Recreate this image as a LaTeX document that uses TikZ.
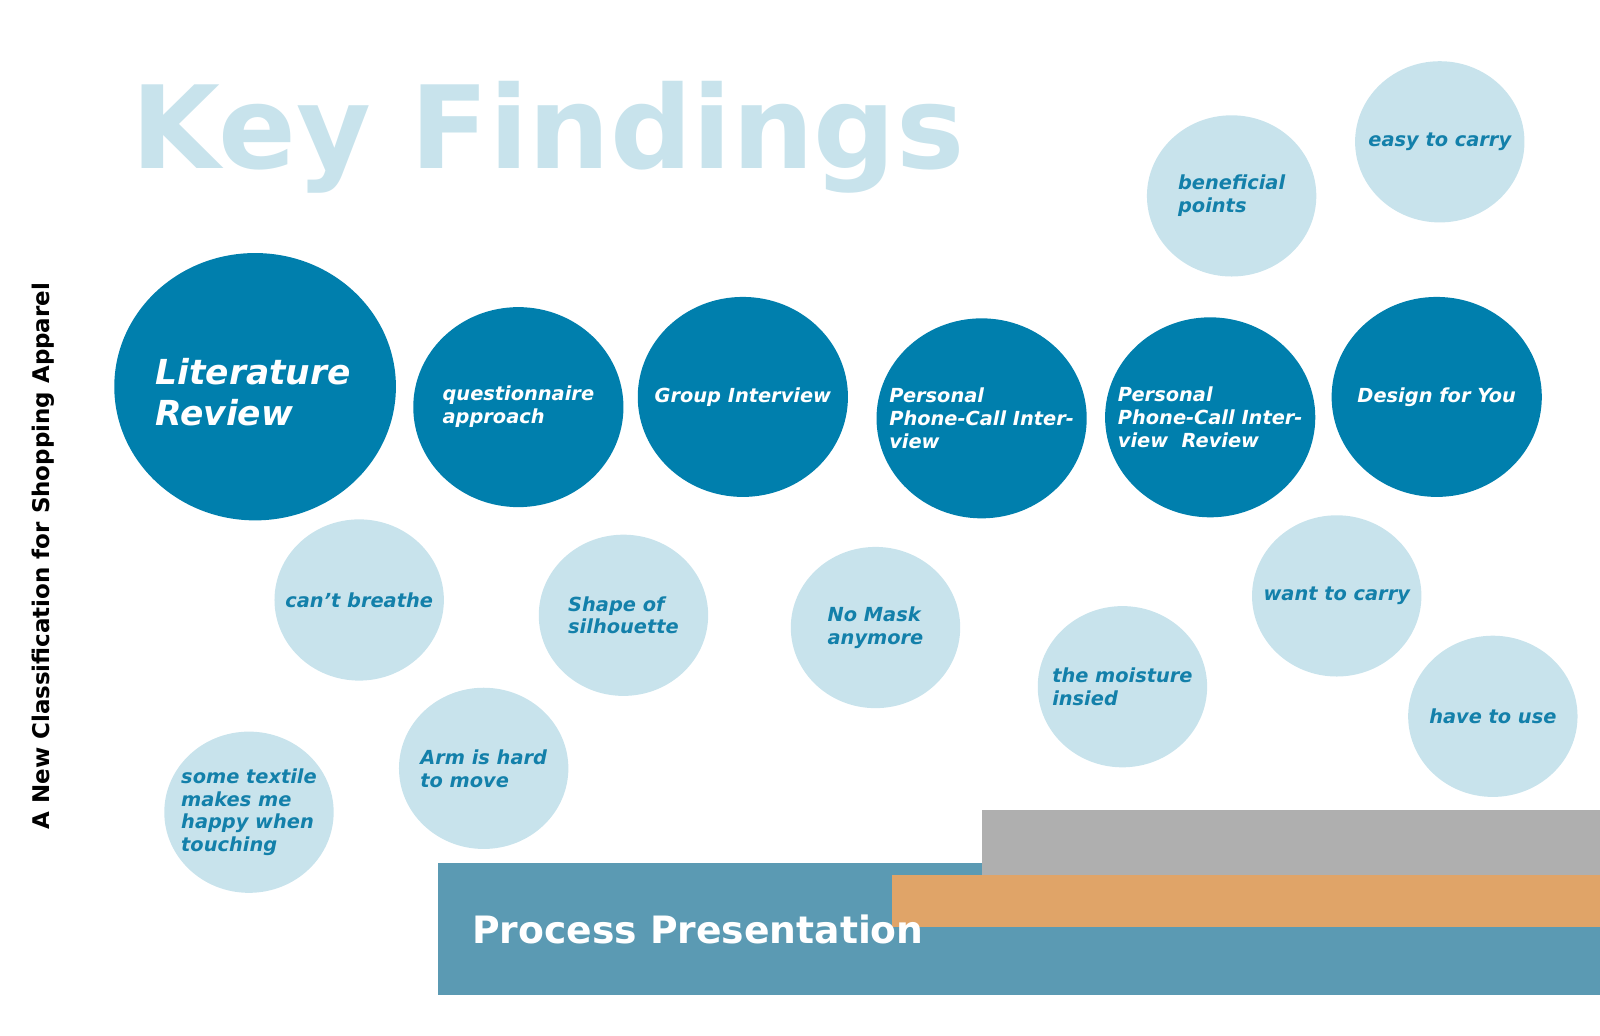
\documentclass[tikz,border=0pt]{standalone}
\usepackage{fontspec}
\setmainfont{DejaVu Sans}
\definecolor{dark}{HTML}{007FAD}
\definecolor{light}{HTML}{C8E3EC}
\definecolor{ltxt}{HTML}{1380AA}
\definecolor{gbar}{HTML}{AFAFAF}
\definecolor{obar}{HTML}{E0A468}
\definecolor{bbar}{HTML}{5B9AB3}
\newcommand{\bigc}[4]{\fill[dark] (#2) ellipse [x radius=103, y radius=98]; \node[bt] (#1) at (#2) {#4};}
\newcommand{\smc}[4]{\fill[light] (#2) ellipse [x radius=83, y radius=79]; \node[st] (#1) at (#2) {#4};}
\begin{document}
\begin{tikzpicture}[x=0.01cm,y=-0.01cm,
 bt/.style={inner sep=0pt,text=white,font=\fontsize{5.4}{6.4}\selectfont\bfseries\itshape,align=left},
 st/.style={inner sep=0pt,text=ltxt,font=\fontsize{5.4}{6.4}\selectfont\bfseries\itshape,align=left}]
\node[anchor=base west,text=light,font=\fontsize{32}{32}\selectfont\bfseries,inner sep=0pt] (title) at (128,165) {Key Findings};
\node[rotate=90,font=\fontsize{6.4}{7}\selectfont\bfseries,inner sep=0pt] (side) at (42,545) {A New Classification for Shopping Apparel};
\fill[dark] (250,379) ellipse [x radius=138, y radius=131];
\node[bt,font=\fontsize{9.6}{11.5}\selectfont\bfseries\itshape] (lit) at (248,384) {Literature\\Review};
\bigc{q}{508,399}{}{questionnaire\\approach}
\bigc{g}{728,389}{}{Group Interview}
\bigc{p1}{962,410}{}{Personal\\Phone-Call Inter-\\view}
\bigc{p2}{1186,409}{}{Personal\\Phone-Call Inter-\\view\ \ Review}
\bigc{d}{1408,389}{}{Design for You}
\smc{ben}{1207,192}{}{beneficial\\points}
\smc{easy}{1411,139}{}{easy to carry}
\smc{cant}{352,588}{}{can’t breathe}
\smc{shape}{611,603}{}{Shape of\\silhouette}
\smc{mask}{858,615}{}{No Mask\\anymore}
\smc{moist}{1100,673}{}{the moisture\\insied}
\smc{want}{1310,584}{}{want to carry}
\smc{have}{1463,702}{}{have to use}
\smc{arm}{474,753}{}{Arm is hard\\to move}
\smc{tex}{244,796}{}{some textile\\makes me\\happy when\\touching}
\fill[bbar] (429,846) rectangle (1568,975);
\fill[gbar] (962,794) rectangle (1568,858);
\fill[obar] (874,858) rectangle (1568,908);
\node[anchor=west,text=white,font=\fontsize{10.5}{12}\selectfont\bfseries,inner sep=0pt] (pp) at (462,911) {Process Presentation};
\pgfresetboundingbox
\useasboundingbox (0,0) rectangle (1568,1015.3);
\end{tikzpicture}
\end{document}
